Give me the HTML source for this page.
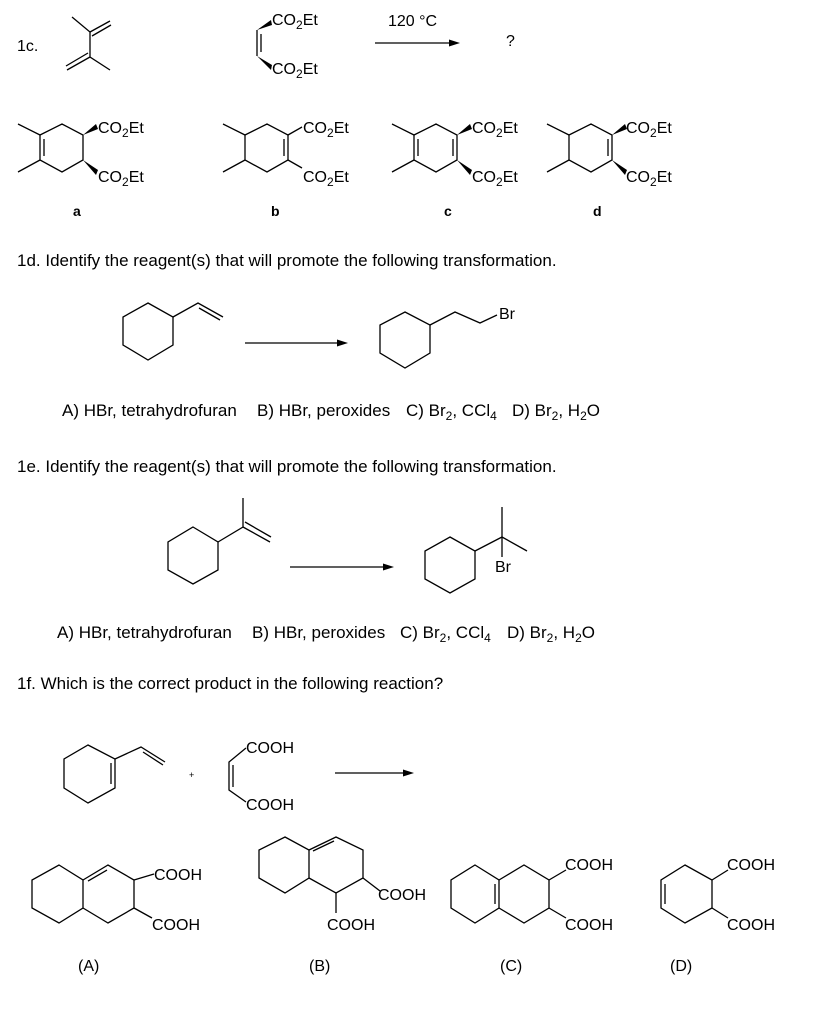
<!DOCTYPE html>
<html><head><meta charset="utf-8"><style>
html,body{margin:0;padding:0;background:#fff;}
svg{display:block;font-family:"Liberation Sans",Arial,sans-serif;}
</style></head><body>
<svg width="827" height="1024" viewBox="0 0 827 1024" xmlns="http://www.w3.org/2000/svg">
<g stroke="#000" stroke-width="1.3" fill="none">
<polyline points="72,17 90,32 90,57 110,70"/>
<line x1="90" y1="32" x2="110" y2="21"/><line x1="92" y1="36" x2="111" y2="25"/>
<line x1="90" y1="57" x2="67" y2="70"/><line x1="88" y1="53" x2="66" y2="66"/>
<line x1="257" y1="30" x2="257" y2="56"/><line x1="261" y1="34" x2="261" y2="52"/>
<line x1="375" y1="43" x2="452" y2="43"/>
</g>
<polygon points="460,43 449,39.5 449,46.5" fill="#000"/>
<polygon points="257,30 271,20 272,25" fill="#000"/>
<polygon points="257,56 272,65 271,70" fill="#000"/>
<g font-size="16">
<text x="17" y="51">1c.</text>
<text x="272" y="25">CO<tspan font-size="12" dy="4">2</tspan><tspan dy="-4">Et</tspan></text>
<text x="272" y="74">CO<tspan font-size="12" dy="4">2</tspan><tspan dy="-4">Et</tspan></text>
<text x="388" y="26">120 °C</text>
<text x="506" y="46">?</text>
</g>

<g stroke="#000" stroke-width="1.3" fill="none">
<polygon points="40,135 62,124 83,135 83,160 62,172 40,160"/>
<line x1="40" y1="135" x2="18" y2="124"/><line x1="40" y1="160" x2="18" y2="172"/>
<line x1="44" y1="139" x2="44" y2="156"/>
<polygon points="245,135 267,124 288,135 288,160 267,172 245,160"/>
<line x1="245" y1="135" x2="223" y2="124"/><line x1="245" y1="160" x2="223" y2="172"/>
<line x1="284" y1="139" x2="284" y2="156"/>
<line x1="288" y1="135" x2="302" y2="127"/><line x1="288" y1="160" x2="302" y2="168"/>
<polygon points="414,135 436,124 457,135 457,160 436,172 414,160"/>
<line x1="414" y1="135" x2="392" y2="124"/><line x1="414" y1="160" x2="392" y2="172"/>
<line x1="418" y1="139" x2="418" y2="156"/><line x1="453" y1="139" x2="453" y2="156"/>
<polygon points="569,135 591,124 612,135 612,160 591,172 569,160"/>
<line x1="569" y1="135" x2="547" y2="124"/><line x1="569" y1="160" x2="547" y2="172"/>
<line x1="608" y1="139" x2="608" y2="156"/>
</g>
<g fill="#000">
<polygon points="83,135 96,124 98,129"/><polygon points="83,160 98,170 96,175"/>
<polygon points="457,135 470,124 472,129"/><polygon points="457,160 472,170 470,175"/>
<polygon points="612,135 625,124 627,129"/><polygon points="612,160 627,170 625,175"/>
</g>
<g font-size="16">
<text x="98" y="133">CO<tspan font-size="12" dy="4">2</tspan><tspan dy="-4">Et</tspan></text>
<text x="98" y="182">CO<tspan font-size="12" dy="4">2</tspan><tspan dy="-4">Et</tspan></text>
<text x="303" y="133">CO<tspan font-size="12" dy="4">2</tspan><tspan dy="-4">Et</tspan></text>
<text x="303" y="182">CO<tspan font-size="12" dy="4">2</tspan><tspan dy="-4">Et</tspan></text>
<text x="472" y="133">CO<tspan font-size="12" dy="4">2</tspan><tspan dy="-4">Et</tspan></text>
<text x="472" y="182">CO<tspan font-size="12" dy="4">2</tspan><tspan dy="-4">Et</tspan></text>
<text x="626" y="133">CO<tspan font-size="12" dy="4">2</tspan><tspan dy="-4">Et</tspan></text>
<text x="626" y="182">CO<tspan font-size="12" dy="4">2</tspan><tspan dy="-4">Et</tspan></text>
</g>
<g font-size="14" font-weight="bold">
<text x="73" y="216">a</text><text x="271" y="216">b</text><text x="444" y="216">c</text><text x="593" y="216">d</text>
</g>

<text x="17" y="266" font-size="17">1d. Identify the reagent(s) that will promote the following transformation.</text>
<g stroke="#000" stroke-width="1.3" fill="none">
<polygon points="148,303 173,317 173,345 148,360 123,345 123,317"/>
<polyline points="173,317 198,303 223,317"/>
<line x1="199" y1="308" x2="220" y2="320"/>
<line x1="245" y1="343" x2="340" y2="343"/>
<polygon points="405,312 430,325 430,353 405,368 380,353 380,325"/>
<polyline points="430,325 455,312 480,323 497,315"/>
<line x1="290" y1="567" x2="386" y2="567"/>
<polygon points="193,527 218,542 218,570 193,584 168,570 168,542"/>
<polyline points="218,542 243,527 243,498"/>
<line x1="243" y1="527" x2="270" y2="542"/><line x1="245" y1="522" x2="271" y2="537"/>
<polygon points="450,537 475,551 475,579 450,593 425,579 425,551"/>
<line x1="475" y1="551" x2="502" y2="537"/><line x1="502" y1="507" x2="502" y2="557"/>
<line x1="502" y1="537" x2="527" y2="551"/>
</g>
<polygon points="348,343 337,339.5 337,346.5" fill="#000"/>
<polygon points="394,567 383,563.5 383,570.5" fill="#000"/>
<text x="499" y="319" font-size="16">Br</text>
<text x="495" y="572" font-size="16">Br</text>
<g font-size="17">
<text x="62" y="416">A) HBr, tetrahydrofuran</text>
<text x="257" y="416">B) HBr, peroxides</text>
<text x="406" y="416">C) Br<tspan font-size="12" dy="4">2</tspan><tspan dy="-4">, CCl</tspan><tspan font-size="12" dy="4">4</tspan></text>
<text x="512" y="416">D) Br<tspan font-size="12" dy="4">2</tspan><tspan dy="-4">, H</tspan><tspan font-size="12" dy="4">2</tspan><tspan dy="-4">O</tspan></text>
<text x="17" y="472">1e. Identify the reagent(s) that will promote the following transformation.</text>
<text x="57" y="638">A) HBr, tetrahydrofuran</text>
<text x="252" y="638">B) HBr, peroxides</text>
<text x="400" y="638">C) Br<tspan font-size="12" dy="4">2</tspan><tspan dy="-4">, CCl</tspan><tspan font-size="12" dy="4">4</tspan></text>
<text x="507" y="638">D) Br<tspan font-size="12" dy="4">2</tspan><tspan dy="-4">, H</tspan><tspan font-size="12" dy="4">2</tspan><tspan dy="-4">O</tspan></text>
<text x="17" y="689">1f. Which is the correct product in the following reaction?</text>
</g>

<g stroke="#000" stroke-width="1.3" fill="none">
<polygon points="88,745 115,759 115,788 88,803 64,788 64,759"/>
<line x1="111" y1="763" x2="111" y2="784"/>
<polyline points="115,759 141,747 165,762"/>
<line x1="143" y1="752" x2="163" y2="765"/>
<polyline points="246,748 229,762 229,790 246,802"/>
<line x1="233" y1="765" x2="233" y2="787"/>
<line x1="335" y1="773" x2="405" y2="773"/>
<polygon points="59,865 83,880 83,908 59,923 32,908 32,880"/>
<polyline points="83,880 108,865 134,880 134,908 108,923 83,908"/>
<line x1="88" y1="881" x2="107" y2="870"/>
<line x1="134" y1="880" x2="154" y2="874"/><line x1="134" y1="908" x2="152" y2="918"/>
<polygon points="285,837 309,850 309,878 285,893 259,878 259,850"/>
<polyline points="309,850 336,837 363,850 363,878 336,893 309,878"/>
<line x1="313" y1="851" x2="334" y2="841"/>
<line x1="336" y1="893" x2="336" y2="913"/><line x1="363" y1="878" x2="380" y2="891"/>
<polygon points="475,865 499,880 499,908 475,923 451,908 451,880"/>
<polyline points="499,880 524,865 549,880 549,908 524,923 499,908"/>
<line x1="495" y1="884" x2="495" y2="904"/>
<line x1="549" y1="880" x2="566" y2="870"/><line x1="549" y1="908" x2="566" y2="918"/>
<polygon points="685,865 712,880 712,908 685,923 661,908 661,880"/>
<line x1="665" y1="884" x2="665" y2="904"/>
<line x1="712" y1="880" x2="728" y2="870"/><line x1="712" y1="908" x2="728" y2="918"/>
</g>
<polygon points="414,773 403,769.5 403,776.5" fill="#000"/>
<text x="189" y="778" font-size="9">+</text>
<g font-size="16">
<text x="246" y="753">COOH</text><text x="246" y="810">COOH</text>
<text x="154" y="880">COOH</text><text x="152" y="930">COOH</text>
<text x="378" y="900">COOH</text><text x="327" y="930">COOH</text>
<text x="565" y="870">COOH</text><text x="565" y="930">COOH</text>
<text x="727" y="870">COOH</text><text x="727" y="930">COOH</text>
<text x="78" y="971">(A)</text><text x="309" y="971">(B)</text><text x="500" y="971">(C)</text><text x="670" y="971">(D)</text>
</g>
</svg>
</body></html>
